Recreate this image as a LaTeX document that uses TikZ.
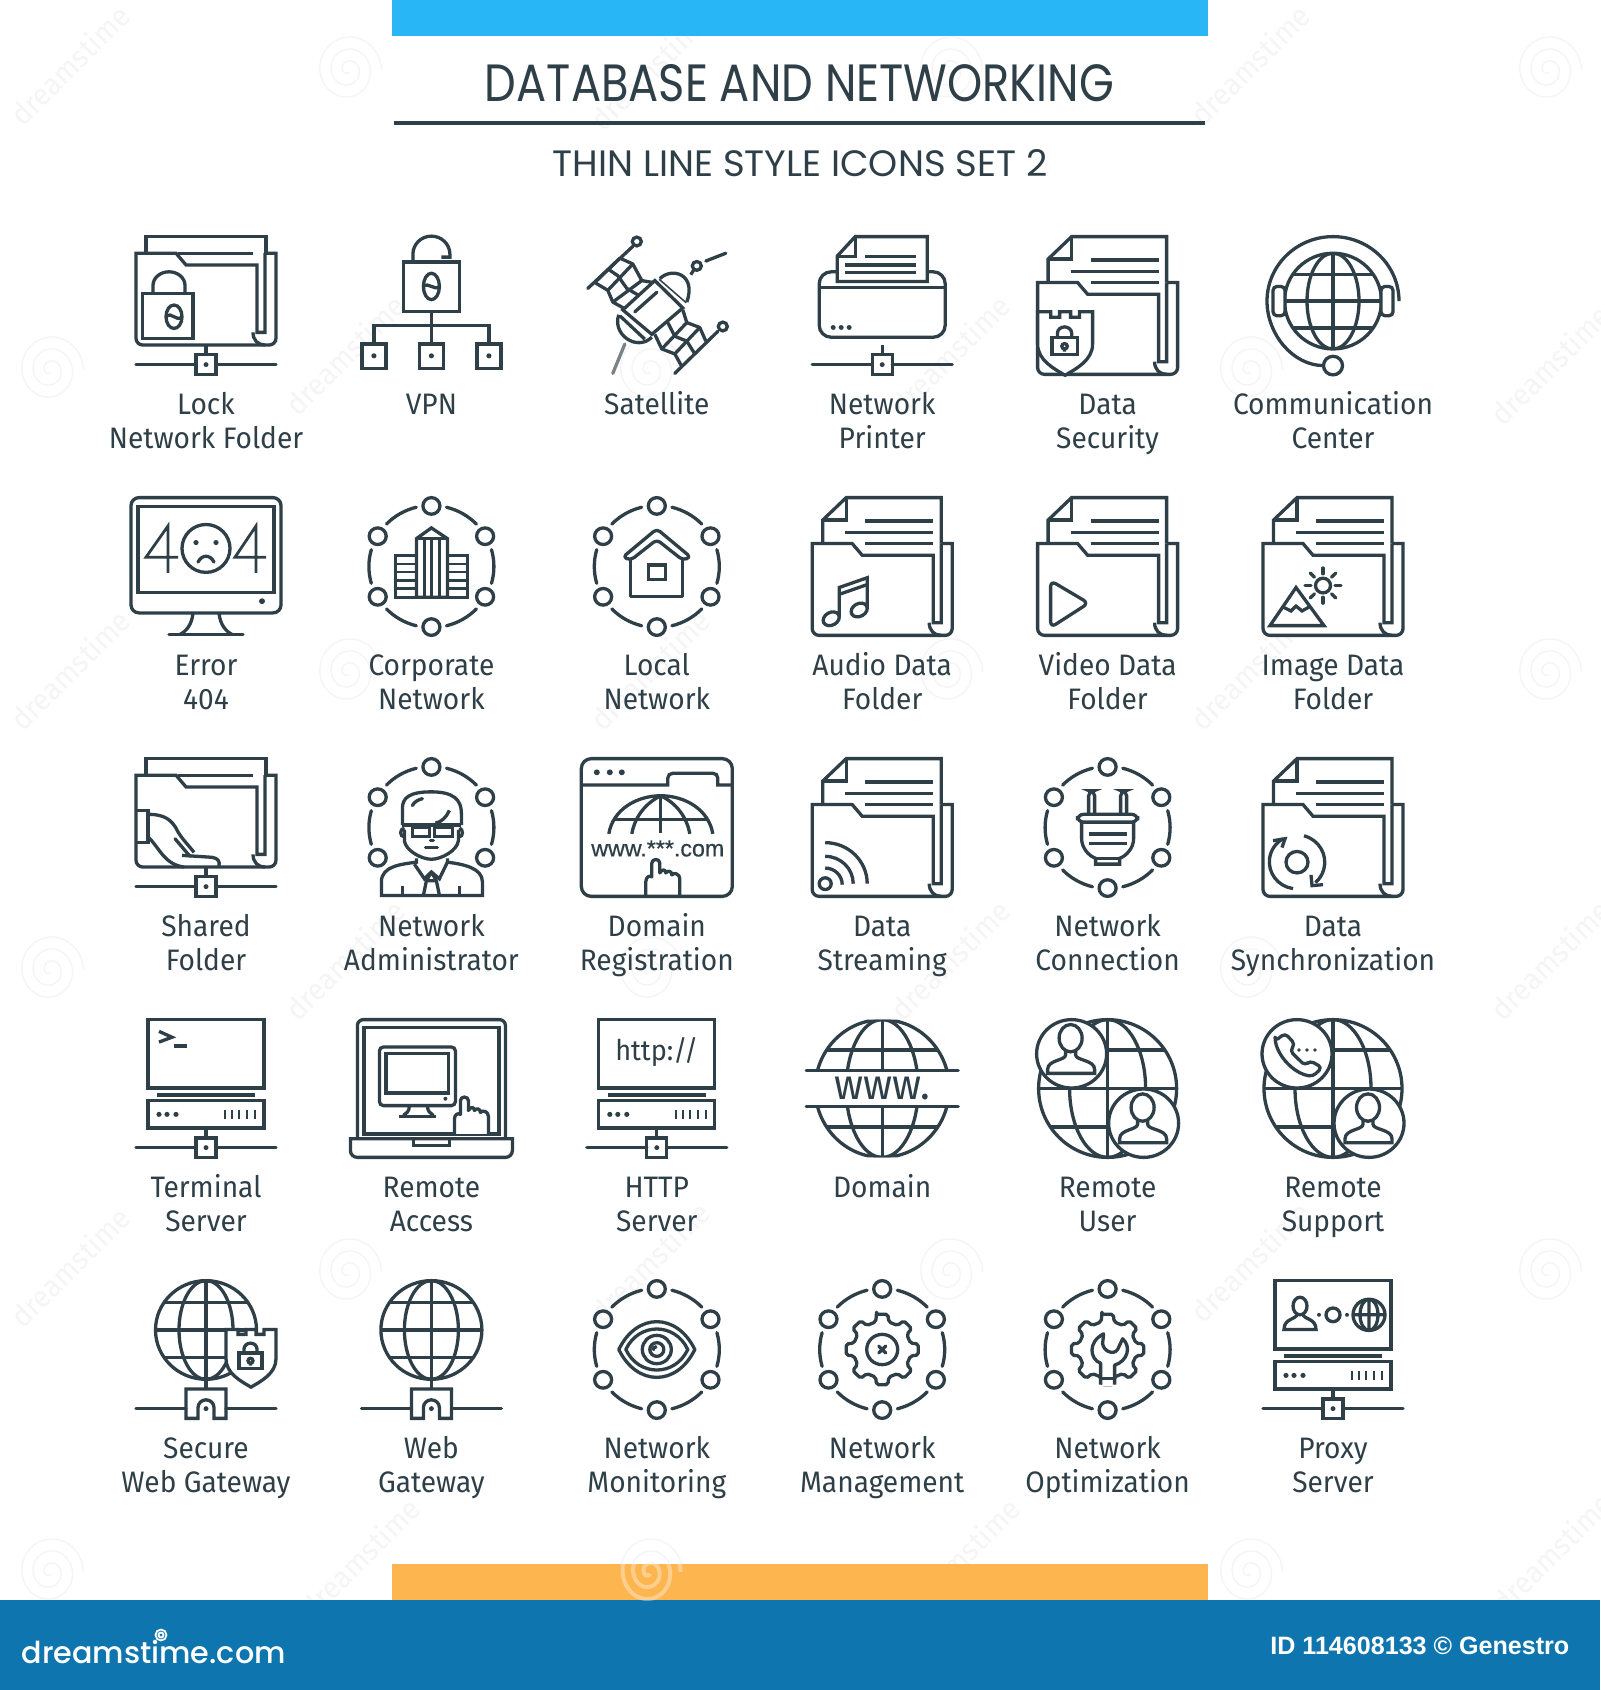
\documentclass[tikz,border=0pt]{standalone}
\usepackage{fontspec}
\usepackage{graphicx}
\usetikzlibrary{calc}
\setmainfont{Fira Sans}[FakeStretch=0.95]
\newfontfamily\titlefont{Poppins}
\newfontfamily\libfont{Liberation Sans}
\newfontfamily\logofont{Poppins}[UprightFont=* Medium]
\definecolor{ink}{HTML}{2F3F48}
\definecolor{topband}{HTML}{29B6F6}
\definecolor{orangeband}{HTML}{FDB54F}
\definecolor{footband}{HTML}{0F75AE}
\tikzset{
  lab/.style={anchor=base,inner sep=0pt,font=\fontsize{14.8}{16}\selectfont,text=ink},
  wm/.style={line width=.7pt,color=black!4},
}
% ---------- parts
\newcommand\fbody{%
  \fill[white] (-70,0) -- (-30,0) -- (-20,12) -- (51,12) -- (51,94) -- (-70,94) -- cycle;
  \draw (59,0) -- (59,81) -- (51,81) -- (51,12) -- (-20,12) -- (-30,0) -- (-70,0) -- (-70,87) arc (180:90:7) -- (63,94) arc (90:0:7) -- (70,0) -- (59,0);
  \draw (47,81) .. controls (47,89) and (52,94) .. (59,94);
}
\newcommand\docsheet{%
  \draw (-59.5,47) -- (-59.5,23) -- (-36,0) -- (59,0) -- (59,47);
  \draw (-36,0) -- (-36,23) -- (-59.5,23);
  \draw (-17,24) -- (51,24) (-37,36) -- (51,36) (-17,47) -- (51,47);
}
\newcommand\datafolder{\docsheet\begin{scope}[shift={(0,47)}]\fbody\end{scope}}
\newcommand\backfolder{%
  \draw (-60,17) -- (-60,0) -- (60,0) -- (60,17);
  \draw (-28,17) -- (47,17);
  \begin{scope}[shift={(0,17)}]\fbody\end{scope}
}
\newcommand\netbar{%
  \draw (0,111) -- (0,121);
  \draw (-10,121) rectangle (10,141);
  \fill (0,131) circle (2.5);
  \draw[line cap=round] (-70,131) -- (-10,131) (10,131) -- (70,131);
}
\newcommand\gatebar{%
  \draw (0,101) -- (0,111);
  \draw (-20,141) -- (-20,111) -- (20,111) -- (20,141) -- (8,141) -- (8,130) arc (0:-180:8) -- (-8,141) -- cycle;
  \fill (0,131) circle (2.5);
  \draw[line cap=round] (-70,131) -- (-20,131) (20,131) -- (70,131);
}
\newcommand\serverbase{%
  \draw (-58,0) rectangle (58,70);
  \draw (-49,77) -- (49,77);
  \draw (-58,83) rectangle (58,111);
  \fill (-47,97) circle (2.6) (-39,97) circle (2.6) (-30,97) circle (2.6);
  \foreach \b in {19,26,33,41,49} {\draw[line width=1.25pt] (\b,92) -- (\b,102);}
  \netbar
}
\newcommand\ringnodes[1]{\begin{scope}[shift={(0,70.5)}]
  \foreach \a in {#1} {\draw (\a:62) circle (8.5);}\end{scope}}
\newcommand\ringarcs[1]{\begin{scope}[shift={(0,70.5)}]
  \foreach \a in {#1} {\draw[line cap=round] ({\a+14}:62.5) arc ({\a+14}:{\a+46}:62.5);}\end{scope}}
\newcommand\fullring{\ringnodes{-90,-30,30,90,150,210}\ringarcs{-90,-30,30,90,150,210}}
\newcommand\globe[5]{% cx cy rx ry mrx
  \begin{scope}
    \clip (#1,#2) ellipse (#3 and #4);
    \fill[white] (#1,#2) ellipse (#3 and #4);
    \draw ({#1-#3},#2) -- ({#1+#3},#2);
    \draw ({#1-#3},{#2-.56*#4}) -- ({#1+#3},{#2-.56*#4});
    \draw ({#1-#3},{#2+.56*#4}) -- ({#1+#3},{#2+.56*#4});
    \draw (#1,{#2-#4}) -- (#1,{#2+#4});
    \draw (#1,#2) ellipse (#5 and #4);
  \end{scope}
  \draw (#1,#2) ellipse (#3 and #4);
}
\newcommand\person{%
  \draw (-1,-16) ellipse (11.5 and 14);
  \draw (-6,-4) -- (-6,1) .. controls (-6,7) and (-24,6) .. (-24,16) -- (-24,20) -- (23,20) -- (23,16) .. controls (23,6) and (4,7) .. (4,1) -- (4,-4);
}
\newcommand\shieldshape{%
  \filldraw[fill=white] (0,0) -- (12,0) -- (12,5) -- (20,5) -- (20,0) -- (30,0) -- (30,5) -- (38,5) -- (38,0) -- (50,0) -- (50,30) .. controls (50,45) and (35,53) .. (25,59) .. controls (15,53) and (0,45) .. (0,30) -- cycle;
  \draw (13,24) rectangle (36,40);
  \draw (18,24) -- (18,20) arc (180:360:6.5 and 6) -- (31,24);
  \draw (24.5,32) circle (2.5) (24.5,34) -- (24.5,37);
}
\newcommand\hand{%
  \draw[line join=round] (-10,37) -- (-10,22) .. controls (-10,17) and (-6,15) .. (-4,17) -- (-4,3) .. controls (-4,-2) and (4,-2) .. (4,3) -- (4,13) .. controls (6,9) and (10,9) .. (10,13) .. controls (12,10) and (16,11) .. (16,15) .. controls (18,12) and (24,14) .. (24,19) -- (24,37);
}
\newcommand\gear{%
  \draw[line join=round,rounded corners=1pt] (-99:36.5) \foreach \a in {-90,-45,...,225} { -- ({\a-9}:36.5) -- ({\a+9}:36.5) -- ({\a+13}:29) -- ({\a+32}:29)} -- cycle;
}
% ---------- placement
\newcommand\iconat[6]{%
  \begin{scope}[shift={({206+225.4*#1},{235+261*#2})}]
    \begin{scope}[shift={(0,70.5)},yscale=.977,shift={(0,-70.5)}]
    #4
    \end{scope}
    \node[lab] (#3a) at (0,179) {#5};
    \def\tmpsecond{#6}\ifx\tmpsecond\empty\else\node[lab] (#3b) at (0,213) {#6};\fi
  \end{scope}}
\begin{document}
\begin{tikzpicture}[x=.5pt,y=-.5pt,line width=1.65pt,color=ink]
\useasboundingbox (0,0) rectangle (1600,1690);
\fill[white] (0,0) rectangle (1600,1690);
% faint watermark spirals
\foreach \px/\py in {348/70,50/370,348/672,50/970,348/1272,50/1572,949/70,649/370,949/672,649/970,949/1272,649/1572,1548/70,1249/370,1548/672,1249/970,1548/1272,1249/1572}{
  \draw[wm] plot[domain=60:1080,samples=60,smooth] ({\px+(\x/32)*cos(\x)},{\py+(\x/30)*sin(\x)});
}
% faint watermark words
\foreach \wx/\wy [count=\wi] in {70/65,650/70,1250/65,345/355,950/355,1550/365,70/670,650/670,1250/670,345/960,950/960,1550/960,70/1267,650/1262,1250/1262,360/1558,960/1558,1552/1553}{
  \node[rotate=45,inner sep=0pt,text=black!4,font=\fontsize{15}{16}\selectfont] (wmark\wi) at (\wx,\wy) {dreamstime};
}
% bands
\fill[topband] (392,0) rectangle (1208,36);
\fill[orangeband] (392,1564) rectangle (1208,1600);
\fill[footband] (0,1600) rectangle (1600,1690);
\begin{scope}
  \clip (392,1564) rectangle (1208,1600);
  \draw[white,opacity=.35,line width=2pt] plot[domain=60:1080,samples=60,smooth] ({649+(\x/34)*cos(\x)},{1572+(\x/30)*sin(\x)});
\end{scope}
% title
\node[inner sep=0pt,text=ink] (title) at (799.5,83.5) {\resizebox{314.5pt}{18.5pt}{\titlefont DATABASE AND NETWORKING}};
\draw[line width=2pt] (394,123) -- (1205,123);
\node[inner sep=0pt,text=ink] (subtitle) at (800,163.5) {\resizebox{247.5pt}{13.5pt}{\titlefont THIN LINE STYLE ICONS SET 2}};
% ---- row 1
\iconat{0}{0}{lockfolder}{\backfolder\netbar
  \filldraw[fill=white] (-63.5,58) rectangle (-13,104);
  \draw (-53,58) -- (-53,50) arc (180:360:16 and 14) -- (-21,58);
  \draw (-32,82) ellipse (8 and 12);
  \draw (-40,82) .. controls (-34,76) and (-30,88) .. (-24,82);
}{Lock}{Network Folder}
\iconat{1}{0}{vpn}{%
  \draw (-28,26) rectangle (28,77);
  \draw (-18.5,26) -- (-18.5,18) arc (180:360:18.5) -- (18.5,21) -- (10,21);
  \draw (0,51) ellipse (8 and 13.5);
  \draw (-8,51) .. controls (-3,46) and (3,56) .. (8,51);
  \draw (0,77) -- (0,110);
  \draw (-57.5,110) -- (-57.5,91) -- (57.5,91) -- (57.5,110);
  \foreach \vx in {-57.5,0,57.5}{\draw (\vx-12,110) rectangle (\vx+12,135); \fill (\vx,122) circle (2.6);}
}{VPN}{}
\iconat{2}{0}{satellite}{%
  % upper panel
  \draw[line join=round] (-37,22) -- (-24,28) -- (-15,45) -- (2,48);
  \draw[line join=round] (-62,47) -- (-49,55) -- (-44,67) -- (-30,75);
  \draw[line join=round] (-49,33) -- (-39,40) -- (-30,53) -- (-15,62);
  \draw (-24,28) -- (-49,55) (-15,45) -- (-44,67) (-37,22) -- (-62,47);
  \draw[line cap=round] (-24,10) -- (-69,53);
  % lower panel
  \draw[line join=round] (26,75) -- (30,88) -- (43,93) -- (49,107);
  \draw[line join=round] (-2,100) -- (5,115) -- (18,120) -- (25,133);
  \draw[line join=round] (11,88) -- (18,102) -- (30,107) -- (38,120);
  \draw (30,88) -- (5,115) (43,93) -- (18,120);
  \draw[line cap=round] (61,97) -- (18,140);
  % body
  \filldraw[fill=white] (-2,45) -- (26,73) -- (-5,100) -- (-34,75) -- cycle;
  \draw[line cap=round] (0,57) -- (-22,77);
  \draw (3,43) -- (30,67);
  \filldraw[fill=white] (3,43) .. controls (15,31) and (40,38) .. (30,67);
  \draw (-37,81) -- (-12,105);
  \draw (-38,80) .. controls (-45,100) and (-20,118) .. (-5,103);
  \draw (-20,5) circle (4.5) (66,92) circle (4.5) (40,30) circle (4.5);
  \draw (34,39) -- (37,34);
  \draw[line cap=round] (49,25) -- (69,17);
  \draw[color=ink!65,line cap=round] (-32,110) -- (-44,140);
}{Satellite}{}
\iconat{3}{0}{printer}{%
  \filldraw[fill=white,rounded corners=6pt] (-63,36) rectangle (63,103);
  \draw (-63,52) -- (63,52);
  \filldraw[fill=white] (-45,46) -- (-45,20) -- (-27,0) -- (45,0) -- (45,46) -- cycle;
  \draw (-27,0) -- (-27,20) -- (-45,20);
  \draw (-17,20) -- (34,20) (-37,29) -- (34,29) (-37,37) -- (34,37);
  \fill (-49,93) circle (2.5) (-41,93) circle (2.5) (-33,93) circle (2.5);
  \netbar
}{Network}{Printer}
\iconat{4}{0}{security}{\datafolder
  \begin{scope}[shift={(-70,77)},scale=1.1]\shieldshape\end{scope}
}{Data}{Security}
\iconat{5}{0}{comm}{%
  \globe{0}{66}{48.5}{49}{26}
  \draw[fill=white,rounded corners=2pt] (-60,51) rectangle (-48,81);
  \draw[fill=white,rounded corners=2pt] (48,51) rectangle (60,81);
  \draw (66,66) arc (0:-180:66) .. controls (-66,100) and (-40,132) .. (-9.5,132);
  \draw (0,132) circle (9.5);
}{Communication}{Center}
% ---- row 2
\iconat{0}{1}{err}{%
  \draw[rounded corners=4pt] (-75,0) rectangle (75,118);
  \draw (-68,9) rectangle (68,97);
  \fill (56,106) circle (3);
  \draw (-13,118) .. controls (-14,130) and (-20,137) .. (-26,140);
  \draw (13,118) .. controls (14,130) and (20,137) .. (26,140);
  \draw[line cap=round] (-37,140) -- (37,140);
  \draw (0,52) ellipse (24 and 24.5);
  \fill (-10,46) circle (2.6) (10,46) circle (2.6);
  \draw[line cap=round] (-8,66) .. controls (-4,58) and (4,58) .. (8,66);
  \draw[line width=1.4pt] (-38,77) -- (-38,29) -- (-60,61) -- (-28,61);
  \draw[line width=1.4pt] (50,77) -- (50,29) -- (29,61) -- (60,61);
}{Error}{404}
\iconat{1}{1}{corp}{\fullring
  \draw (-36,59) rectangle (-15,102) (16,59) rectangle (36,102);
  \draw (-15,102) -- (-15,42) -- (0,31) -- (16,42) -- (16,102) -- cycle;
  \draw (-15,42) -- (16,42);
  \foreach \vx in {-7,0,8}{\draw[line width=1.3pt] (\vx,42) -- (\vx,102);}
  \foreach \vy in {68,76,85,93}{\draw[line width=1.3pt] (-36,\vy) -- (-15,\vy) (16,\vy) -- (36,\vy);}
}{Corporate}{Network}
\iconat{2}{1}{local}{\fullring
  \draw[line join=round] (-26,64) -- (-26,101) -- (26,101) -- (26,64);
  \draw[line join=round,rounded corners=2pt] (-26,64) -- (-34,61) -- (0,32) -- (34,61) -- (26,64) -- (0,43) -- cycle;
  \draw (-8.5,69) rectangle (8.5,84);
}{Local}{Network}
\iconat{3}{1}{audio}{\datafolder
  \draw[rotate around={30:(-51,124)}] (-51,124) ellipse (8.5 and 6.5);
  \draw[rotate around={30:(-23,115)}] (-23,115) ellipse (8.5 and 6.5);
  \draw (-43,121) -- (-43,92) -- (-15,82) -- (-15,113);
  \draw (-43,99) -- (-15,89);
}{Audio Data}{Folder}
\iconat{4}{1}{video}{\datafolder
  \draw[rounded corners=3pt] (-57,85) -- (-19,108) -- (-57,133) -- cycle;
}{Video Data}{Folder}
\iconat{5}{1}{image}{\datafolder
  \draw (-10,90) circle (7.5);
  \foreach \a in {0,45,...,315}{\draw[line cap=round] ($(-10,90)+(\a:12)$) -- ($(-10,90)+(\a:18)$);}
  \draw (-63,131) -- (-37,92) -- (-9,131) -- cycle;
  \draw (-50,112) -- (-42,116) -- (-37,111) -- (-31,116) -- (-24,112);
}{Image Data}{Folder}
% ---- row 3
\iconat{0}{2}{shared}{\backfolder\netbar
  \draw (-70,53) -- (-58,53) -- (-58,86) -- (-70,86);
  \draw (-58,57) .. controls (-42,57) and (-34,62) .. (-28,75) .. controls (-24,82) and (-18,88) .. (-12,96);
  \draw[line cap=round] (-31,82) -- (-16,100);
  \draw (-24,99) -- (6,101) .. controls (12,102) and (14,105) .. (13,110);
  \draw (-58,80) .. controls (-46,92) and (-42,108) .. (-22,111);
}{Shared}{Folder}
\iconat{1}{2}{admin}{%
  \ringnodes{-90,-30,30,150,210}\ringarcs{-90,-30,150,210}
  \draw (-29,68) -- (-29,51) .. controls (-29,40) and (-22,34) .. (0,34) .. controls (22,34) and (30,42) .. (30,56) -- (30,68);
  \draw[line cap=round] (-19,48) .. controls (-17,44) and (-13,42) .. (-9,41);
  \draw (18,53) .. controls (15,60) and (10,65) .. (4,66);
  \draw[line width=2.2pt] (-29,68) -- (30,68);
  \draw (-19,70) rectangle (-2,80) (3,70) rectangle (21,80);
  \draw (-27,73) -- (-27,84) .. controls (-26,94) and (-10,103) .. (0,103) .. controls (10,103) and (26,94) .. (27,84) -- (27,73);
  \draw (-27,71) .. controls (-32,72) and (-32,80) .. (-27,80) (28,71) .. controls (32,72) and (32,80) .. (28,80);
  \draw[line cap=round] (-1,84) -- (2,84) (-6,91) -- (6,91);
  \draw (-15,102) -- (-15,106) .. controls (-30,108) and (-50,110) .. (-50,126) -- (-50,140) -- (51,140) -- (51,126) .. controls (51,112) and (32,108) .. (16,106) -- (16,102);
  \draw (-17,108) -- (-7,123) -- (0,116) -- (8,123) -- (16,106);
  \draw (0,116) -- (-5,125) -- (-8,140) (0,116) -- (5,125) -- (8,140) (-5,125) -- (5,125);
  \draw (-29,130) -- (-29,140) (28,130) -- (28,140);
}{Network}{Administrator}
\iconat{2}{2}{domainreg}{%
  \draw[rounded corners=5pt] (-75.5,0) rectangle (75.5,141);
  \draw (-75.5,27) -- (11,27) -- (11,20) .. controls (11,17) and (13,15) .. (16,15) -- (56,15) .. controls (59,15) and (61,17) .. (61,20) -- (61,27) -- (75.5,27);
  \fill (-60,14) circle (3) (-47,14) circle (3) (-35,14) circle (3);
  \draw (-48,77) .. controls (-44,52) and (-20,38) .. (4,38) .. controls (28,38) and (52,52) .. (56,77);
  \draw (-42,62) -- (50,62);
  \draw (4,38) -- (4,76);
  \draw (4,38) .. controls (-12,46) and (-22,60) .. (-25,77);
  \draw (4,38) .. controls (20,46) and (30,60) .. (33,77);
  \node[inner sep=0pt,text=ink] (wwwcom) at (1,92) {\resizebox{66.5pt}{!}{\libfont\addfontfeature{FakeBold=.6}www.***.com}};
  \begin{scope}[shift={(-1,104)}]\hand\end{scope}
}{Domain}{Registration}
\iconat{3}{2}{stream}{\datafolder
  \draw (-57,128) circle (6);
  \draw (-57,86) arc (-90:0:42);
  \draw (-57,100) arc (-90:0:28);
  \draw (-57,112) arc (-90:0:17);
}{Data}{Streaming}
\iconat{4}{2}{plug}{\fullring
  \draw[rounded corners=2.5pt] (-19,58) -- (-19,33) -- (-13,33) -- (-13,58);
  \draw[rounded corners=2.5pt] (13,58) -- (13,33) -- (19,33) -- (19,58);
  \draw[rounded corners=3pt] (-30,57) rectangle (30,65);
  \draw (-26,65) -- (-26,82) .. controls (-26,92) and (-18,100) .. (-12,102) -- (-12,108) -- (12,108) -- (12,102) .. controls (18,100) and (26,92) .. (26,82) -- (26,65);
  \draw (-12,102) -- (12,102);
  \draw (-19,77) -- (19,77) (-19,87) -- (19,87);
}{Network}{Connection}
\iconat{5}{2}{sync}{\datafolder
  \draw (-36,106) circle (11);
  \draw (-40,133) arc (98:240:27.5);
  \draw (-60,84) -- (-48,82) -- (-51,91);
  \draw (-29,79) arc (-75:48:28);
  \draw (-22,119) -- (-21,130) -- (-10,129);
}{Data}{Synchronization}
% ---- row 4
\iconat{0}{3}{terminal}{\serverbase
  \draw (-47,12) -- (-34,18) -- (-47,23);
  \draw (-32,27) -- (-19,27);
}{Terminal}{Server}
\iconat{1}{3}{remoteacc}{%
  \draw (-74,122) -- (-74,6) arc (180:270:6) -- (68,0) arc (270:360:6) -- (74,122);
  \draw (-67.5,8) rectangle (67.5,117);
  \draw (-81,122) -- (-81,134) arc (180:90:7) -- (74,141) arc (90:0:7) -- (81,122) -- cycle;
  \draw (-18,122) -- (-18,129) -- (18,129) -- (18,122);
  \filldraw[fill=white,rounded corners=2pt] (-52,28) rectangle (24,88);
  \draw (-45.5,35) rectangle (17,75);
  \fill (14,81) circle (2);
  \draw (-22,88) .. controls (-22,94) and (-25,96) .. (-28,98);
  \draw (-4,88) .. controls (-4,94) and (-1,96) .. (2,98);
  \draw (-32,99) -- (5,99);
  \begin{scope}[shift={(33,80)}]\fill[white] (-9,13) rectangle (24,37);\hand\end{scope}
}{Remote}{Access}
\iconat{2}{3}{http}{\serverbase
  \node[inner sep=0pt,text=ink] (httptext) at (0,33) {\resizebox{41.5pt}{!}{http://}};
}{HTTP}{Server}
\iconat{3}{3}{domain}{%
  \begin{scope}
    \clip (-76,0) rectangle (76,52) (-76,89) rectangle (76,141);
    \draw (0,70.5) ellipse (67 and 70.5);
    \draw (0,70.5) ellipse (36 and 70.5);
    \draw (0,0) -- (0,141);
  \end{scope}
  \draw (-55.5,31) -- (55.5,31) (-55.5,110) -- (55.5,110);
  \draw[line cap=round] (-76,52) -- (76,52) (-76,89) -- (76,89);
  \node[inner sep=0pt,text=ink] (wwwtext) at (0,71) {\resizebox{48pt}{!}{www.}};
}{Domain}{}
\iconat{4}{3}{remoteuser}{%
  \globe{0}{70.5}{69}{70.5}{38}
  \filldraw[fill=white] (-36,35) circle (35);
  \filldraw[fill=white] (36,106) circle (35);
  \begin{scope}[shift={(-36,35)}]\person\end{scope}
  \begin{scope}[shift={(36,106)}]\person\end{scope}
}{Remote}{User}
\iconat{5}{3}{remotesup}{%
  \globe{0}{70.5}{69}{70.5}{38}
  \filldraw[fill=white] (-36,35) circle (35);
  \filldraw[fill=white] (36,106) circle (35);
  \begin{scope}[shift={(36,106)}]\person\end{scope}
  \draw[line join=round,rounded corners=2pt] (-58,22) -- (-48,14) -- (-38,25) -- (-43,32) -- (-28,47) -- (-23,42) -- (-11,49) -- (-20,58) .. controls (-36,56) and (-52,42) .. (-58,22) -- cycle;
  \fill (-34,31) circle (1.9) (-26,31) circle (1.9) (-18,31) circle (1.9);
}{Remote}{Support}
% ---- row 5
\iconat{0}{4}{secure}{%
  \globe{0}{50.5}{50.5}{50.5}{27}
  \gatebar
  \begin{scope}[shift={(20,50)}]\shieldshape\end{scope}
}{Secure}{Web Gateway}
\iconat{1}{4}{webgate}{%
  \globe{0}{50.5}{50.5}{50.5}{27}
  \gatebar
}{Web}{Gateway}
\iconat{2}{4}{monitor}{\fullring
  \begin{scope}[shift={(0,70.5)}]
    \draw[line join=round] (-38,0) .. controls (-20,-38) and (20,-38) .. (38,0) .. controls (20,38) and (-20,38) .. (-38,0) -- cycle;
    \draw[line join=round] (-31,0) .. controls (-18,-28) and (18,-28) .. (31,0) .. controls (18,28) and (-18,28) .. (-31,0) -- cycle;
    \draw (0,0) circle (14.5) (0,0) circle (7);
    \draw (-4,1) arc (180:270:4);
  \end{scope}
}{Network}{Monitoring}
\iconat{3}{4}{mgmt}{\fullring
  \begin{scope}[shift={(0,70.5)}]\gear
    \draw (0,0) circle (15.5);
    \draw[line cap=round] (-3.5,-3.5) -- (3.5,3.5) (-3.5,3.5) -- (3.5,-3.5);
  \end{scope}
}{Network}{Management}
\iconat{4}{4}{optim}{\fullring
  \begin{scope}[shift={(0,70.5)}]\gear
    \fill[white] (-6,29) rectangle (6,37);
    \draw[line join=round] (-7,36) -- (-7,14) .. controls (-18,10) and (-20,-8) .. (-4,-16) -- (-5,-6) .. controls (-4,2) and (6,6) .. (10,0) -- (15,-11) .. controls (24,-3) and (20,12) .. (7,16) -- (7,36);
    \draw (-7,30) -- (7,30);
  \end{scope}
}{Network}{Optimization}
\iconat{5}{4}{proxy}{\serverbase
  \draw (-33,26) ellipse (7 and 9);
  \draw (-36,34) .. controls (-36,40) and (-49,38) .. (-49,50) -- (-17,50) .. controls (-17,38) and (-30,40) .. (-30,34);
  \fill (-14,35) circle (2) (14,35) circle (2);
  \draw (0,35) circle (7);
  \begin{scope}
    \clip (36,35) circle (16);
    \draw (20,35) -- (52,35) (36,19) -- (36,51) (36,35) ellipse (9 and 16);
  \end{scope}
  \draw (36,35) circle (16);
}{Proxy}{Server}
% footer
\draw[white,line width=.9pt] (161,1635) circle (5.5) (161,1635) circle (2.5);
\node[inner sep=0pt,text=white,anchor=base west] (dreamstime) at (20,1663) {\resizebox{132pt}{!}{\logofont dreamstime.com}};
\node[inner sep=0pt,text=white,anchor=base east] (credit) at (1571,1654) {\resizebox{149.5pt}{!}{\libfont\bfseries ID 114608133 © Genestro}};
\end{tikzpicture}
\end{document}
